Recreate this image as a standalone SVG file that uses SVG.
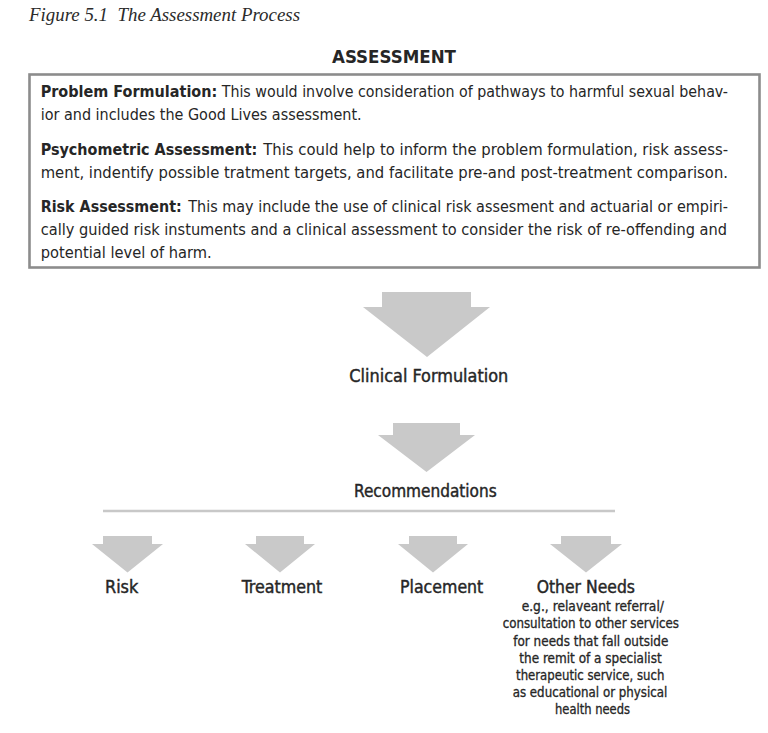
<svg xmlns="http://www.w3.org/2000/svg" width="768" height="733" viewBox="0 0 768 733">
<style>
.t{font-family:"DejaVu Sans Condensed","DejaVu Sans","Liberation Sans",sans-serif;fill:#262626;font-size:15px}
.b{font-weight:bold}
.h{font-family:"DejaVu Sans Condensed","DejaVu Sans","Liberation Sans",sans-serif;fill:#262626;font-size:17px;stroke:#262626;stroke-width:0.4}
.s{font-family:"DejaVu Sans Condensed","DejaVu Sans","Liberation Sans",sans-serif;fill:#262626;font-size:13.6px;text-anchor:middle;stroke:#262626;stroke-width:0.3}
.arr{fill:#c9c9c9}
</style>
<rect width="768" height="733" fill="#ffffff"/>
<text x="29" y="21" font-family="'Liberation Serif','Times New Roman',serif" font-style="italic" font-size="18" fill="#2b2b2b" xml:space="preserve" style="white-space:pre" textLength="271" lengthAdjust="spacingAndGlyphs">Figure 5.1  The Assessment Process</text>

<g id="connectors">
<polygon class="arr" points="382,292 471,292 471,307 490,307 427,357 363,307 382,307"/>
<polygon class="arr" points="393,423 460,423 460,435 475,435 426.5,472 378,435 393,435"/>
<line x1="103" y1="511" x2="615" y2="511" stroke="#c8c8c8" stroke-width="2.5"/>
<polygon class="arr" points="103,536 152,536 152,544 163,544 127.5,572.5 92,544 103,544"/>
<polygon class="arr" points="256,536 304,536 304,544 315,544 280,572.5 245,544 256,544"/>
<polygon class="arr" points="409,536 457,536 457,544 468,544 433,572.5 398,544 409,544"/>
<polygon class="arr" points="561,536 611,536 611,544 622,544 586,572.5 550,544 561,544"/>
</g>

<g id="assessment">
<text x="394" y="63" class="h b" font-size="18.5" text-anchor="middle" style="stroke:none" textLength="124" lengthAdjust="spacingAndGlyphs">ASSESSMENT</text>
<rect x="29.5" y="74.5" width="730" height="193" fill="none" stroke="#8c8c8c" stroke-width="2.6"/>
<text x="40.7" y="96.7" class="t b" textLength="176.6" lengthAdjust="spacingAndGlyphs">Problem Formulation:</text>
<text x="221.7" y="96.7" class="t" textLength="506.3" lengthAdjust="spacingAndGlyphs">This would involve consideration of pathways to harmful sexual behav-</text>
<text x="40.7" y="119.5" class="t" textLength="321" lengthAdjust="spacingAndGlyphs">ior and includes the Good Lives assessment.</text>
<text x="40.7" y="155" class="t b" textLength="216.6" lengthAdjust="spacingAndGlyphs">Psychometric Assessment:</text>
<text x="263.3" y="155" class="t" textLength="464.7" lengthAdjust="spacingAndGlyphs">This could help to inform the problem formulation, risk assess-</text>
<text x="40.7" y="178.3" class="t" textLength="687.3" lengthAdjust="spacingAndGlyphs">ment, indentify possible tratment targets, and facilitate pre-and post-treatment comparison.</text>
<text x="40.7" y="211.7" class="t b" textLength="141" lengthAdjust="spacingAndGlyphs">Risk Assessment:</text>
<text x="188.3" y="211.7" class="t" textLength="539.7" lengthAdjust="spacingAndGlyphs">This may include the use of clinical risk assesment and actuarial or empiri-</text>
<text x="40.7" y="235" class="t" textLength="686.3" lengthAdjust="spacingAndGlyphs">cally guided risk instuments and a clinical assessment to consider the risk of re-offending and</text>
<text x="40.7" y="258.3" class="t" textLength="171" lengthAdjust="spacingAndGlyphs">potential level of harm.</text>
</g>

<g id="clinical-formulation">
<text x="349.3" y="382" class="h" textLength="159" lengthAdjust="spacingAndGlyphs">Clinical Formulation</text>
</g>

<g id="recommendations">
<text x="354" y="496.5" class="h" textLength="142.7" lengthAdjust="spacingAndGlyphs">Recommendations</text>
</g>

<g id="risk">
<text x="105" y="593" class="h" textLength="33.3" lengthAdjust="spacingAndGlyphs">Risk</text>
</g>

<g id="treatment">
<text x="241.7" y="593" class="h" textLength="80.6" lengthAdjust="spacingAndGlyphs">Treatment</text>
</g>

<g id="placement">
<text x="400" y="593" class="h" textLength="83.3" lengthAdjust="spacingAndGlyphs">Placement</text>
</g>

<g id="other-needs">
<text x="536.7" y="593" class="h" textLength="98.3" lengthAdjust="spacingAndGlyphs">Other Needs</text>
<text x="592.8" y="611" class="s" textLength="142.3" lengthAdjust="spacingAndGlyphs">e.g., relaveant referral/</text>
<text x="590.8" y="628.3" class="s" textLength="176.3" lengthAdjust="spacingAndGlyphs">consultation to other services</text>
<text x="590.8" y="645.7" class="s" textLength="155" lengthAdjust="spacingAndGlyphs">for needs that fall outside</text>
<text x="590.5" y="662.7" class="s" textLength="142.3" lengthAdjust="spacingAndGlyphs">the remit of a specialist</text>
<text x="590.2" y="680" class="s" textLength="148.3" lengthAdjust="spacingAndGlyphs">therapeutic service, such</text>
<text x="590" y="697.3" class="s" textLength="154.7" lengthAdjust="spacingAndGlyphs">as educational or physical</text>
<text x="592.5" y="714.3" class="s" textLength="75" lengthAdjust="spacingAndGlyphs">health needs</text>
</g>
</svg>
